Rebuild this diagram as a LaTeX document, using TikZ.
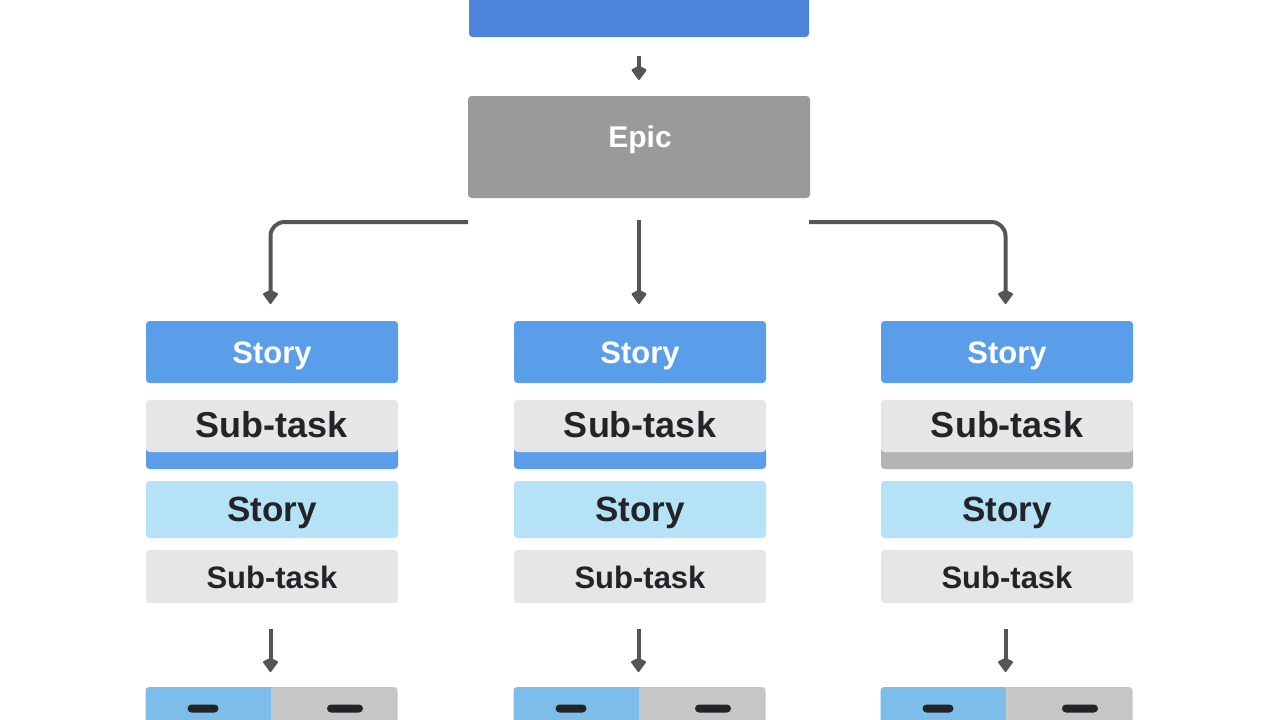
\documentclass[tikz,border=0pt]{standalone}
\usepackage{fontspec}
\setmainfont{Liberation Sans}
\usetikzlibrary{arrows.meta}
\definecolor{topblue}{HTML}{4C84DA}
\definecolor{epicgrey}{HTML}{9A9A9A}
\definecolor{storyblue}{HTML}{5A9EEA}
\definecolor{subgrey}{HTML}{E6E6E6}
\definecolor{lightblue}{HTML}{B5E2F6}
\definecolor{stripgrey}{HTML}{B4B4B4}
\definecolor{leafblue}{HTML}{7CBDEA}
\definecolor{leafgrey}{HTML}{C6C6C6}
\definecolor{inkdark}{HTML}{222428}
\definecolor{conn}{HTML}{555555}
\tikzset{
  boxbase/.style={rectangle,rounded corners=3.5pt,inner sep=0pt,outer sep=0pt,minimum width=252pt,text=inkdark,font=\bfseries,text depth=0pt},
  wf/.style={boxbase,text=white},
  storytop/.style={wf,fill=storyblue,minimum height=62pt,text height=22pt,font=\fontsize{31}{31}\selectfont\bfseries},
  subone/.style={boxbase,fill=subgrey,minimum height=52pt,text height=22pt,font=\fontsize{36}{36}\selectfont\bfseries},
  strip/.style={boxbase,minimum height=22pt},
  storylight/.style={boxbase,fill=lightblue,minimum height=57pt,text height=24pt,font=\fontsize{35}{35}\selectfont\bfseries},
  subtwo/.style={boxbase,fill=subgrey,minimum height=53pt,text height=23pt,font=\fontsize{31}{31}\selectfont\bfseries},
  epicbox/.style={wf,fill=epicgrey,minimum width=342pt,minimum height=102pt,text height=0pt,font=\fontsize{30}{30}\selectfont\bfseries},
  leaf/.style={rectangle,rounded corners=3.5pt,inner sep=0pt,outer sep=0pt,minimum height=60pt},
  bar/.style={rectangle,rounded corners=4pt,inner sep=0pt,outer sep=0pt,minimum height=8pt,fill=inkdark},
  arr/.style={draw=conn,line width=4pt,-{Kite[width=16pt,length=15pt,inset=4pt,round,line width=2pt]}},
}
\begin{document}
\begin{tikzpicture}[x=1pt,y=-1pt]
\useasboundingbox (0,0) rectangle (1280,720);
\clip (0,0) rectangle (1280,720);
\fill[white] (0,0) rectangle (1280,720);
\node[boxbase,fill=topblue,minimum width=340pt,minimum height=77pt] (top) at (639,-1.5) {};
\node[epicbox] (epic) at (639,147) {\hspace*{2pt}Epic};
\draw[arr,shorten <=19pt,shorten >=16pt] (top.south) -- (epic.north);
\coordinate (epicL) at (468,222);
\coordinate (epicR) at (809,222);
\coordinate (epicC) at (639,220);
\foreach \n/\x/\sc in {a/272/storyblue,b/640/storyblue,c/1007/stripgrey}{
  \node[strip,fill=\sc] (strip\n) at (\x,458) {};
  \node[storytop] (st\n) at (\x,352) {Story};
  \node[subone] (su\n) at (\x,426) {Sub-task};
  \node[storylight] (sl\n) at (\x,509.5) {Story};
  \node[subtwo] (sv\n) at (\x,576.5) {Sub-task};
  \node[leaf,fill=leafblue,minimum width=125pt,anchor=north east] (lfl\n) at (\x-1.5,687) {};
  \node[leaf,fill=leafgrey,minimum width=127pt,anchor=north west] (lfr\n) at (\x-1.5,687) {};
  \fill[leafblue] (\x-10,687) rectangle (\x-1.5,720);
  \fill[leafgrey] (\x-1.5,687) rectangle (\x+10,720);
  \node[bar,minimum width=31pt] (bl\n) at (\x-69,708.5) {};
  \node[bar,minimum width=36pt] (br\n) at (\x+73,708.5) {};
  \draw[arr,shorten <=26pt,shorten >=15pt] (sv\n.south -| lfl\n.north east) -- (lfl\n.north east);
}
\draw[arr,rounded corners=14pt,shorten >=17pt] (epicL) -- (epicL -| lfla.north east) -- (lfla.north east |- sta.north);
\draw[arr,shorten >=17pt] (epicC) -- (stb.north -| epicC);
\draw[arr,rounded corners=14pt,shorten >=17pt] (epicR) -- (epicR -| lflc.north east) -- (lflc.north east |- stc.north);
\end{tikzpicture}
\end{document}
